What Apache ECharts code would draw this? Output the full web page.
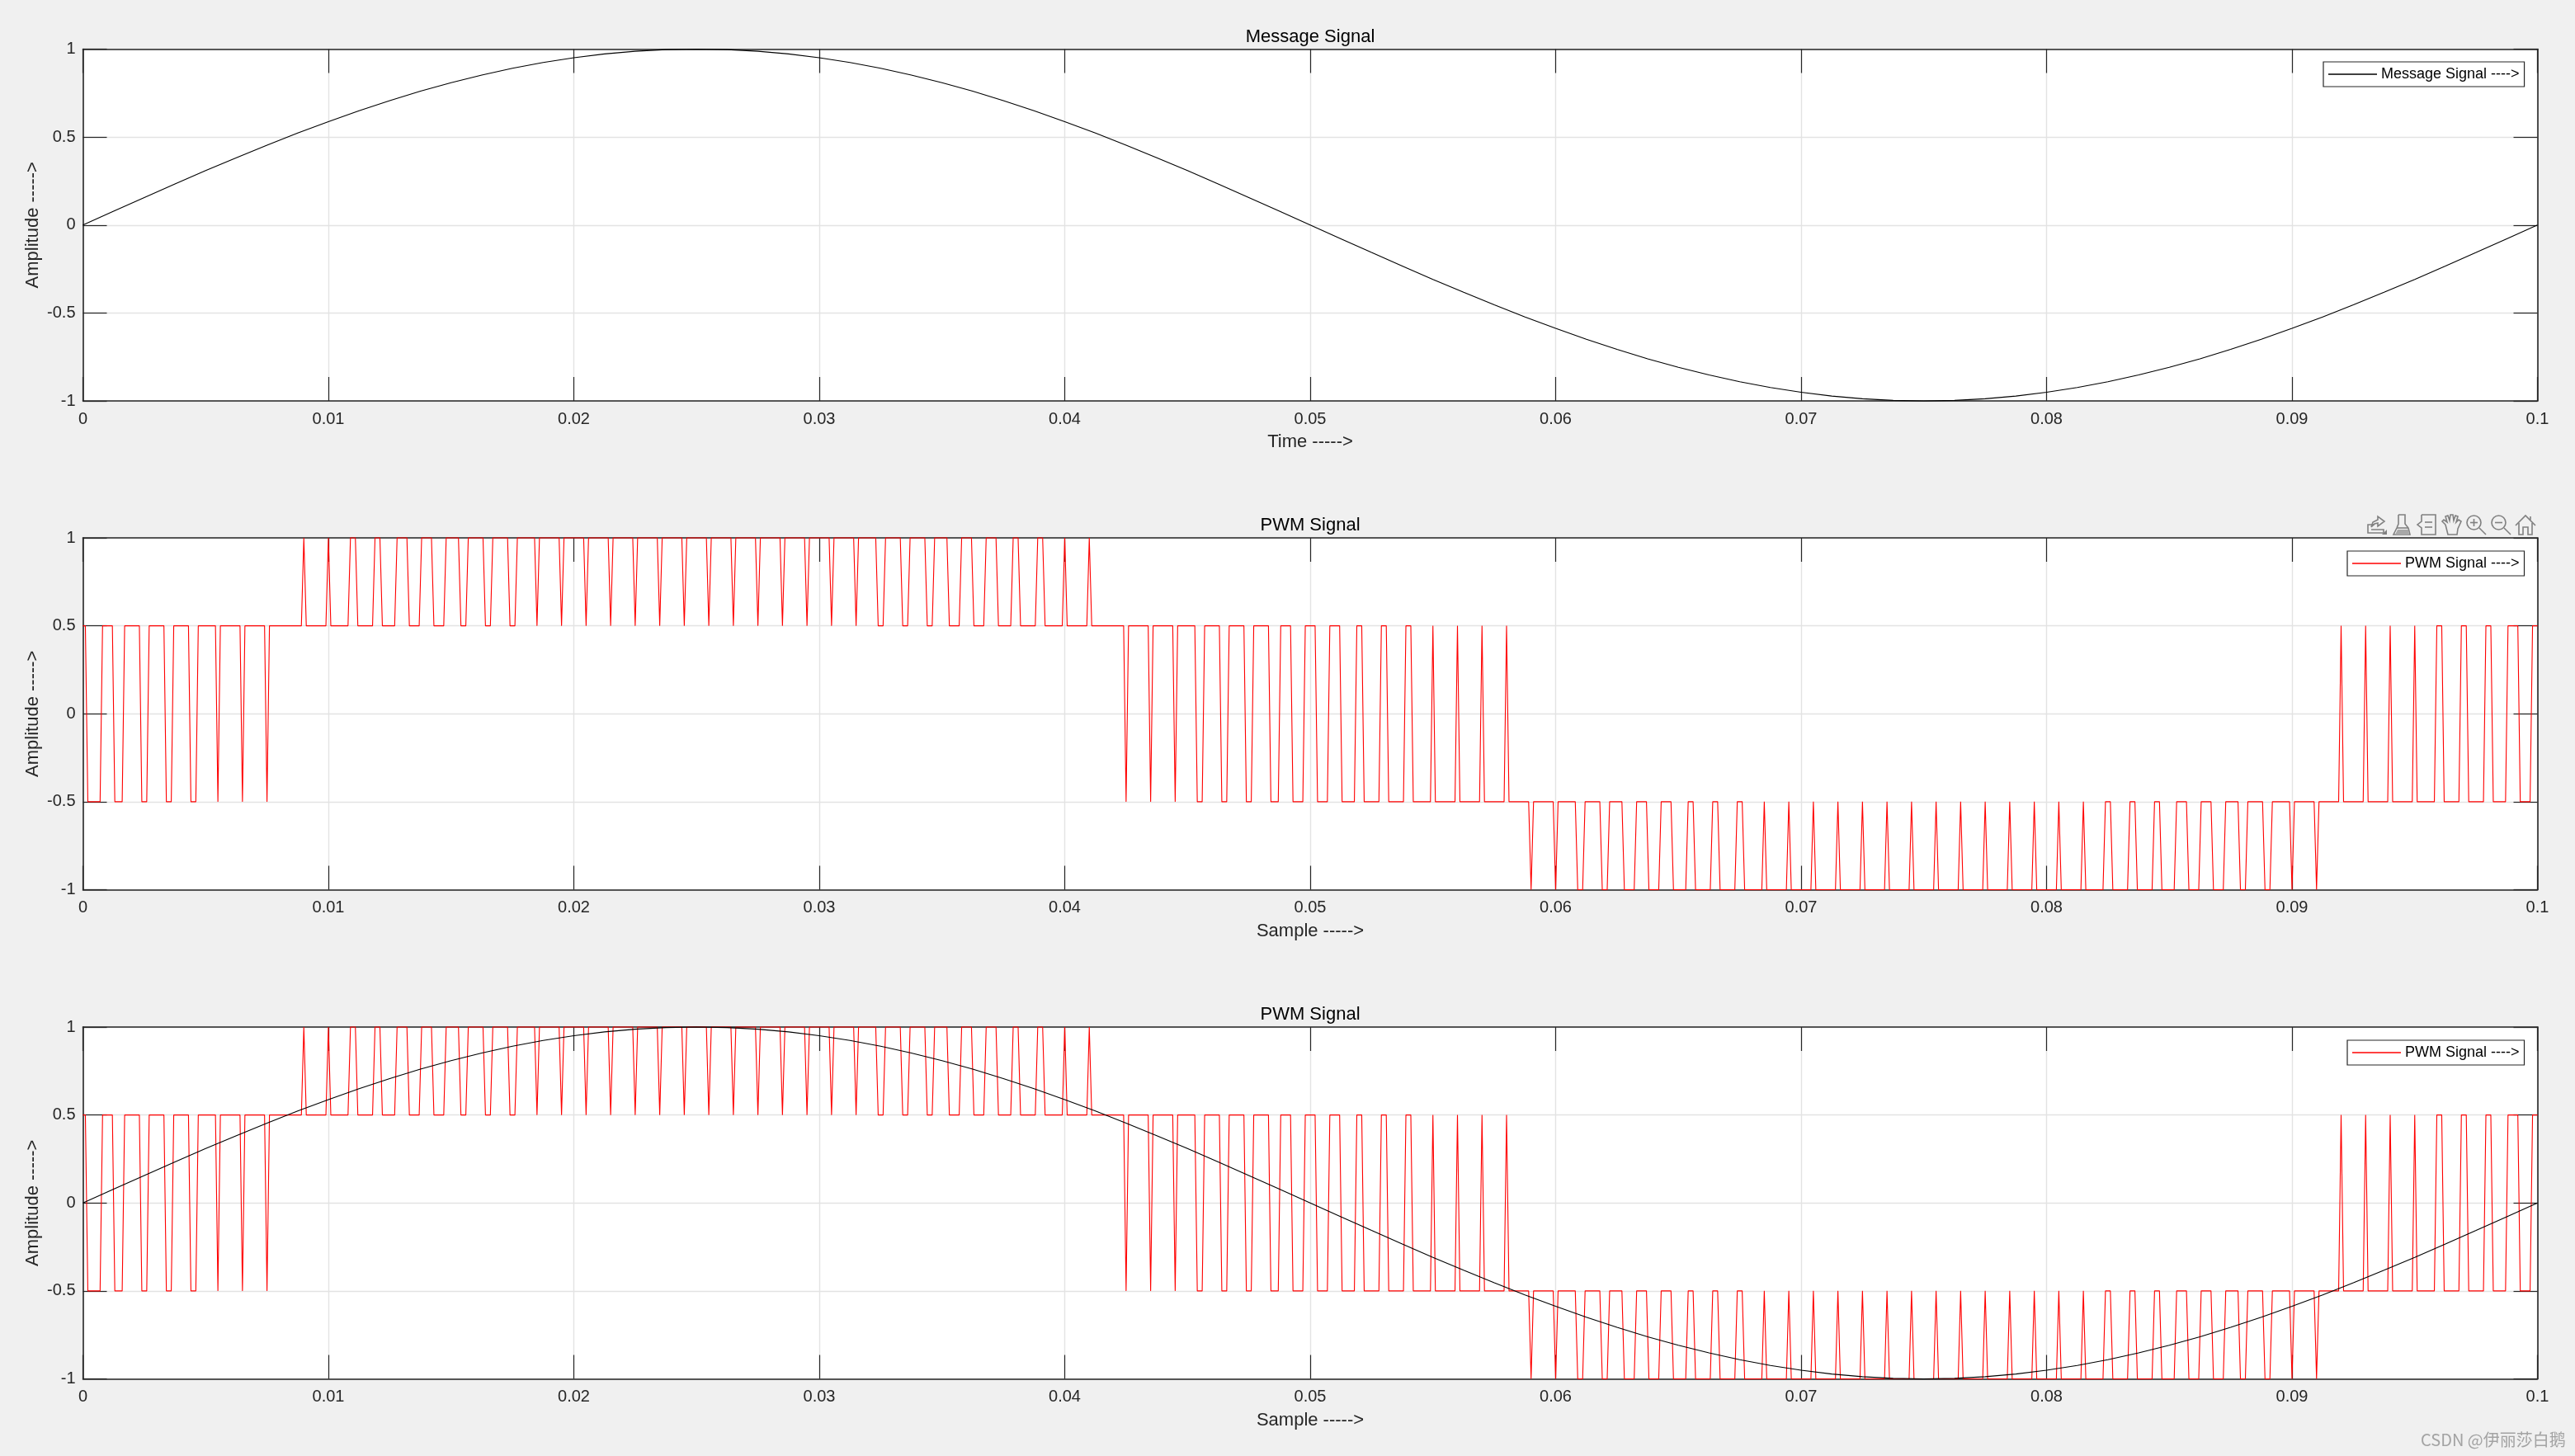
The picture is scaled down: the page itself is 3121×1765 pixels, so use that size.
<!DOCTYPE html>
<html>
<head>
<meta charset="utf-8">
<style>html,body{margin:0;padding:0;background:#f0f0f0}#c{width:3121px;height:1765px}</style>
<script src="https://cdn.jsdelivr.net/npm/echarts@6/dist/echarts.min.js"></script>
</head>
<body>
<div id="c"></div>
<script>
const xTickLabels = ["0","0.01","0.02","0.03","0.04","0.05","0.06","0.07","0.08","0.09","0.1"];
const yTickLabels = ["-1","-0.5","0","0.5","1"];
const titles = ["Message Signal","PWM Signal","PWM Signal"];
const xNames = ["Time ----->","Sample ----->","Sample ----->"];
const yName = "Amplitude ----->";
const messageName = "Message Signal ---->";
const pwmName = "PWM Signal ---->";

// message signal, read every 0.00125 s
const messageStep = 0.00125;
const messageValues = [
 0,.0785,.1564,.2334,.309,.3827,.454,.5225,.5878,.6494,.7071,.7604,.809,.8526,.891,.9239,.9511,.9724,.9877,.9969,
 1,.9969,.9877,.9724,.9511,.9239,.891,.8526,.809,.7604,.7071,.6494,.5878,.5225,.454,.3827,.309,.2334,.1564,.0785,
 0,-.0785,-.1564,-.2334,-.309,-.3827,-.454,-.5225,-.5878,-.6494,-.7071,-.7604,-.809,-.8526,-.891,-.9239,-.9511,-.9724,-.9877,-.9969,
 -1,-.9969,-.9877,-.9724,-.9511,-.9239,-.891,-.8526,-.809,-.7604,-.7071,-.6494,-.5878,-.5225,-.454,-.3827,-.309,-.2334,-.1564,-.0785,0
];

// PWM signal as [first sample number, level held from that sample], one sample = 0.0001 s
const pwmStep = 0.0001;
const pwmLastSample = 1000;
const pwmSteps = [
 [0,.5],[2,-.5],[8,.5],[13,-.5],[17,.5],[24,-.5],[27,.5],[34,-.5],[37,.5],[44,-.5],[47,.5],[55,-.5],[56,.5],[65,-.5],[66,.5],[75,-.5],[76,.5],
 [90,1],[91,.5],[100,1],[101,.5],[109,1],[112,.5],[119,1],[122,.5],[128,1],[133,.5],[138,1],[143,.5],[148,1],[154,.5],[157,1],[164,.5],[167,1],[174,.5],[177,1],[185,.5],[186,1],[195,.5],[196,1],[205,.5],[206,1],[215,.5],[216,1],[225,.5],[226,1],[235,.5],[236,1],[245,.5],[246,1],[255,.5],[256,1],[265,.5],[266,1],[275,.5],[276,1],[285,.5],[286,1],[295,.5],[296,1],[305,.5],[306,1],[315,.5],[316,1],[324,.5],[327,1],[334,.5],[337,1],[344,.5],[347,1],[353,.5],[358,1],[363,.5],[368,1],[373,.5],[379,1],[382,.5],[389,1],[392,.5],[400,1],[401,.5],[410,1],[411,.5],
 [425,-.5],[426,.5],[435,-.5],[436,.5],[445,-.5],[446,.5],[454,-.5],[457,.5],[464,-.5],[467,.5],[474,-.5],[477,.5],[484,-.5],[488,.5],[493,-.5],[498,.5],[503,-.5],[508,.5],[513,-.5],[519,.5],[522,-.5],[529,.5],[532,-.5],[539,.5],[542,-.5],[550,.5],[551,-.5],[560,.5],[561,-.5],[570,.5],[571,-.5],[580,.5],[581,-.5],
 [590,-1],[591,-.5],[600,-1],[601,-.5],[609,-1],[612,-.5],[619,-1],[622,-.5],[628,-1],[633,-.5],[638,-1],[643,-.5],[648,-1],[654,-.5],[657,-1],[664,-.5],[667,-1],[674,-.5],[677,-1],[685,-.5],[686,-1],[695,-.5],[696,-1],[705,-.5],[706,-1],[715,-.5],[716,-1],[725,-.5],[726,-1],[735,-.5],[736,-1],[745,-.5],[746,-1],[755,-.5],[756,-1],[765,-.5],[766,-1],[775,-.5],[776,-1],[785,-.5],[786,-1],[795,-.5],[796,-1],[805,-.5],[806,-1],[815,-.5],[816,-1],[824,-.5],[827,-1],[834,-.5],[837,-1],[844,-.5],[847,-1],[853,-.5],[858,-1],[863,-.5],[868,-1],[873,-.5],[879,-1],[882,-.5],[889,-1],[892,-.5],[900,-1],[901,-.5],[910,-1],[911,-.5],
 [920,.5],[921,-.5],[930,.5],[931,-.5],[940,.5],[941,-.5],[950,.5],[951,-.5],[959,.5],[962,-.5],[969,.5],[972,-.5],[979,.5],[982,-.5],[988,.5],[993,-.5],[998,.5]
];

const FONT = '"Liberation Sans", Arial, sans-serif';
const INK = '#262626';
const GRID = '#e3e3e3';
const tops = [59.5, 652, 1245];
const plotH = 426.5, plotL = 100.5, plotW = 2975;

const messageData = messageValues.map((v, k) => [+(k * messageStep).toFixed(5), v]);
const pwmData = [];
pwmSteps.forEach((s, n) => {
  const end = n + 1 < pwmSteps.length ? pwmSteps[n + 1][0] : pwmLastSample + 1;
  for (let i = s[0]; i < end; i++) pwmData.push([+(i * pwmStep).toFixed(4), s[1]]);
});

const tick = { show: true, inside: true, length: 29, lineStyle: { color: INK, width: 1.2 } };
const line = { show: true, onZero: false, lineStyle: { color: INK, width: 1.6 } };
const split = { show: true, lineStyle: { color: GRID, width: 1.4 } };

const grids = tops.map(t => ({ left: plotL, top: t, width: plotW, height: plotH, backgroundColor: '#fff', show: true, borderWidth: 0 }));

const xAxes = [], yAxes = [];
tops.forEach((t, i) => {
  xAxes.push({ type: 'value', gridIndex: i, min: 0, max: 0.1, interval: 0.01, position: 'bottom',
    axisLine: line, axisTick: tick, splitLine: split,
    axisLabel: { formatter: (v, k) => xTickLabels[k], color: INK, fontFamily: FONT, fontSize: 20, margin: 12, showMinLabel: true, showMaxLabel: true, hideOverlap: false },
    name: xNames[i], nameLocation: 'middle', nameGap: 39, nameTextStyle: { color: INK, fontFamily: FONT, fontSize: 22 } });
  yAxes.push({ type: 'value', gridIndex: i, min: -1, max: 1, interval: 0.5, position: 'left',
    axisLine: line, axisTick: tick, splitLine: split,
    axisLabel: { formatter: (v, k) => yTickLabels[k], color: INK, fontFamily: FONT, fontSize: 20, margin: 9, padding: [4, 0, 0, 0], showMinLabel: true, showMaxLabel: true, hideOverlap: false },
    name: yName, nameLocation: 'middle', nameGap: 50, nameMoveOverlap: false, nameRotate: 90, nameTextStyle: { color: INK, fontFamily: FONT, fontSize: 22 } });
});
tops.forEach((t, i) => {
  xAxes.push({ type: 'value', gridIndex: i, min: 0, max: 0.1, interval: 0.01, position: 'top', axisLine: line, axisTick: tick, axisLabel: { show: false }, splitLine: { show: false } });
  yAxes.push({ type: 'value', gridIndex: i, min: -1, max: 1, interval: 0.5, position: 'right', axisLine: line, axisTick: tick, axisLabel: { show: false }, splitLine: { show: false } });
});

const mk = (name, data, color, i) => ({ name, type: 'line', data, xAxisIndex: i, yAxisIndex: i, symbol: 'none', clip: false, animation: false,
  lineStyle: { color, width: 1.1 }, itemStyle: { color }, z: 3 });

const series = [
  mk(messageName, messageData, '#000000', 0),
  mk(pwmName, pwmData, '#ff0000', 1),
  mk(pwmName, pwmData, '#ff0000', 2),
  mk('Message', messageData, '#000000', 2)
];

const legendOf = (name, left, top) => ({ data: [name], left, top, orient: 'vertical', selectedMode: false, backgroundColor: '#fff', borderColor: INK, borderWidth: 1.2, padding: 6, icon: 'rect', itemWidth: 59, itemHeight: 1.3, itemGap: 0, textStyle: { color: '#000', fontFamily: FONT, fontSize: 18, lineHeight: 14 } });

const titleOf = (text, i) => ({ text, left: plotL + plotW / 2, top: tops[i] - 26, textAlign: 'center', padding: 0, textStyle: { color: '#000', fontFamily: FONT, fontSize: 22, fontWeight: 'normal' } });

// toolbar glyphs above the second panel
const ic = '#808080';
const st = { stroke: ic, fill: 'none', lineWidth: 1.6 };
const pl = (points) => ({ type: 'polyline', shape: { points }, style: st, silent: true });
const toolbar = [
  // export
  pl([[2870,642],[2870,636],[2878,636]]), pl([[2870,642],[2870,646],[2889,646],[2889,642],[2874,642]]),
  pl([[2874,639],[2876,633],[2882,630],[2882,626],[2890,632],[2882,638],[2882,634],[2878,635],[2874,639]]),
  { type: 'polygon', shape: { points: [[2893,642],[2893,648],[2887,648]] }, style: { fill: ic }, silent: true },
  // brush
  pl([[2907,624],[2915,624],[2915,635],[2919,640],[2921,648],[2901,648],[2905,640],[2907,635],[2907,624]]),
  pl([[2905,640],[2919,640]]), { type: 'polygon', shape: { points: [[2903,648],[2906,642],[2919,642],[2920,648]] }, style: { fill: '#a8a8a8' }, silent: true },
  // legend
  pl([[2935,624],[2952,624],[2952,648],[2935,648],[2935,640],[2930,636],[2935,632],[2935,624]]), pl([[2939,633],[2948,633]]), pl([[2939,639],[2948,639]]),
  // hand
  pl([[2964,636],[2960,632],[2962,630],[2966,633],[2964,626],[2967,625],[2969,631],[2970,624],[2973,624],[2974,631],[2976,625],[2979,626],[2977,633],[2980,630],[2983,632],[2979,641],[2978,648],[2967,648],[2964,636]]),
  // zoom in
  { type: 'circle', shape: { cx: 2998.5, cy: 633.5, r: 8.5 }, style: st, silent: true }, pl([[3005,640],[3013,648]]), pl([[2994,633.5],[3003,633.5]]), pl([[2998.5,629],[2998.5,638]]),
  // zoom out
  { type: 'circle', shape: { cx: 3028.5, cy: 633.5, r: 8.5 }, style: st, silent: true }, pl([[3035,640],[3043,648]]), pl([[3024,633.5],[3033,633.5]]),
  // home
  pl([[3049,637],[3061,625],[3073,637]]), pl([[3053,634],[3053,648],[3058,648],[3058,639],[3064,639],[3064,648],[3069,648],[3069,634]]), pl([[3067,626],[3067,630]])
];
const watermark = { type: 'text', x: 2934, y: 1735, silent: true, style: { text: 'CSDN @伊丽莎白鹅', fill: '#a3a3a3', font: '20px "Noto Sans CJK SC", sans-serif' } };

const chart = echarts.init(document.getElementById('c'), null, { renderer: 'canvas', width: 3121, height: 1765 });
chart.setOption({
  backgroundColor: '#f0f0f0',
  animation: false,
  title: titles.map(titleOf),
  grid: grids,
  xAxis: xAxes,
  yAxis: yAxes,
  legend: [legendOf(messageName, 2816, 75), legendOf(pwmName, 2845, 668), legendOf(pwmName, 2845, 1261)],
  series,
  graphic: { elements: [...toolbar, watermark] }
});
</script>
</body>
</html>
